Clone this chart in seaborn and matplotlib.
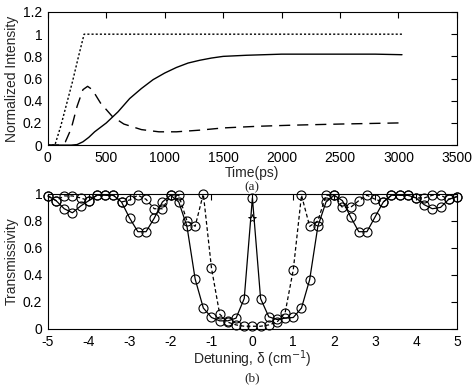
import numpy as np
import matplotlib
matplotlib.use("Agg")
import matplotlib.pyplot as plt
import seaborn as sns

# (a) pulse intensities vs time
t_dotted = [0, 60, 110, 160, 210, 260, 310, 3030]
i_dotted = [0.0, 0.0, 0.17, 0.37, 0.57, 0.79, 1.0, 1.0]

t_dashed = [0, 100, 150, 200, 250, 300, 340, 380, 450, 550, 650, 800, 950, 1100,
            1300, 1500, 1800, 2100, 2500, 3000]
i_dashed = [0.0, 0.0, 0.03, 0.15, 0.35, 0.50, 0.53, 0.50, 0.38, 0.26, 0.19, 0.14,
            0.12, 0.12, 0.135, 0.155, 0.17, 0.18, 0.19, 0.20]

t_solid = [0, 200, 250, 300, 350, 400, 500, 600, 700, 800, 900, 1000, 1100, 1200,
           1300, 1400, 1500, 1700, 2000, 2500, 2800, 3030]
i_solid = [0.0, 0.0, 0.005, 0.03, 0.07, 0.12, 0.20, 0.30, 0.42, 0.51, 0.59, 0.65,
           0.70, 0.74, 0.765, 0.785, 0.80, 0.81, 0.82, 0.82, 0.82, 0.815]

# (b) transmissivity spectra, detuning grid -5..5 step 0.2
detuning = np.round(np.linspace(-5, 5, 51), 1)
trans_wide = [0.985, 0.95, 0.89, 0.86, 0.91, 0.95, 0.99, 0.99, 0.99, 0.94,
              0.82, 0.72, 0.72, 0.82, 0.94, 0.99, 0.94, 0.76, 0.37, 0.155,
              0.085, 0.06, 0.06, 0.08, 0.225, 0.97, 0.225, 0.09, 0.07, 0.08,
              0.085, 0.155, 0.365, 0.76, 0.94, 0.99, 0.95, 0.83, 0.72, 0.72,
              0.83, 0.94, 0.99, 0.99, 0.99, 0.97, 0.92, 0.89, 0.90, 0.96, 0.98]
trans_narrow = [0.985, 0.95, 0.985, 0.985, 0.97, 0.95, 0.99, 0.99, 0.99, 0.94,
                0.955, 0.99, 0.96, 0.89, 0.89, 0.99, 0.99, 0.80, 0.76, 1.0,
                0.45, 0.11, 0.05, 0.03, 0.02, 0.02, 0.02, 0.03, 0.05, 0.12,
                0.44, 0.99, 0.76, 0.80, 0.99, 0.99, 0.90, 0.90, 0.95, 0.99,
                0.96, 0.94, 0.99, 0.99, 0.99, 0.97, 0.97, 0.99, 0.99, 0.96, 0.98]
star_x = [0.0]
star_y = [0.82]

sns.set_style("white")
plt.rcParams.update({
    'font.family': ['Liberation Sans', 'DejaVu Sans'],
    'font.size': 10,
    'axes.unicode_minus': False,
    'axes.edgecolor': 'black',
    'axes.linewidth': 0.8,
    'xtick.direction': 'in',
    'ytick.direction': 'in',
    'xtick.top': True,
    'ytick.right': True,
    'xtick.major.size': 4,
    'ytick.major.size': 4,
    'xtick.major.width': 0.8,
    'ytick.major.width': 0.8,
    'xtick.color': 'black',
    'ytick.color': 'black',
    'xtick.major.pad': 4,
    'ytick.major.pad': 4,
})

fig = plt.figure(figsize=(4.74, 3.87), dpi=100)
ax1 = fig.add_axes([0.101, 0.625, 0.863, 0.344])
ax2 = fig.add_axes([0.101, 0.150, 0.863, 0.349])

# --- top panel
sns.lineplot(x=t_dotted, y=i_dotted, ax=ax1, color='black', lw=1.0,
             linestyle=(0, (1.5, 1.5)), sort=False)
sns.lineplot(x=t_dashed, y=i_dashed, ax=ax1, color='black', lw=1.0,
             linestyle=(0, (8, 5)), sort=False)
sns.lineplot(x=t_solid, y=i_solid, ax=ax1, color='black', lw=1.0, sort=False)
ax1.set_xlim(0, 3500)
ax1.set_ylim(0, 1.2)
ax1.set_xticks(np.arange(0, 3501, 500))
ax1.set_yticks([0, 0.2, 0.4, 0.6, 0.8, 1, 1.2])
ax1.set_yticklabels(['0', '0.2', '0.4', '0.6', '0.8', '1', '1.2'])
ax1.set_xlabel('Time(ps)', labelpad=1)
ax1.set_ylabel('Normalized Intensity', labelpad=3)

# --- bottom panel
mk = dict(marker='o', markersize=6.5, markerfacecolor='none',
          markeredgecolor='black', markeredgewidth=0.8, clip_on=False)
sns.lineplot(x=detuning, y=trans_narrow, ax=ax2, color='black', lw=0.9,
             linestyle=(0, (3, 2)), sort=False, **mk)
sns.lineplot(x=detuning, y=trans_wide, ax=ax2, color='black', lw=0.9,
             sort=False, **mk)
ax2.plot(star_x, star_y, marker='*', markersize=6, markerfacecolor='none',
         markeredgecolor='black', markeredgewidth=0.7, linestyle='none')
ax2.set_xlim(-5, 5)
ax2.set_ylim(0, 1)
ax2.set_xticks(np.arange(-5, 6, 1))
ax2.set_yticks([0, 0.2, 0.4, 0.6, 0.8, 1])
ax2.set_yticklabels(['0', '0.2', '0.4', '0.6', '0.8', '1'])
ax2.set_xlabel('Detuning, δ (cm$^{-1}$)', labelpad=0)
ax2.set_ylabel('Transmissivity', labelpad=3)

for ax in (ax1, ax2):
    for s in ax.spines.values():
        s.set_visible(True)
        s.set_color('black')

fig.text(0.532, 0.515, '(a)', ha='center', va='center',
         family=['Liberation Serif', 'DejaVu Serif'], fontsize=9.5)
fig.text(0.532, 0.022, '(b)', ha='center', va='center',
         family=['Liberation Serif', 'DejaVu Serif'], fontsize=9.5)

fig.savefig('out.png', dpi=100)
